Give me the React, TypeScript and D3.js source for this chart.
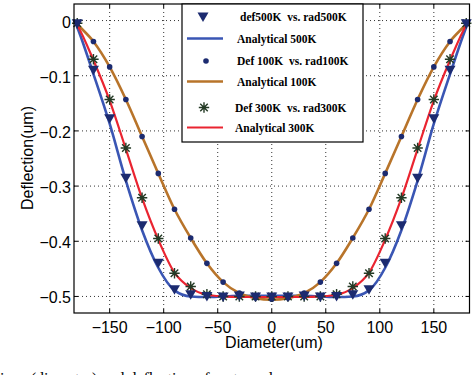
import React from "react";
import * as d3 from "d3";

const diameters = [-180, -165, -150, -135, -120, -105, -90, -75, -60, -45, -30, -15, 0, 15, 30, 45, 60, 75, 90, 105, 120, 135, 150, 165, 180];
const def500 = [-0.006, -0.09, -0.178, -0.286, -0.372, -0.44, -0.488, -0.497, -0.5, -0.501, -0.499, -0.501, -0.501, -0.501, -0.499, -0.501, -0.5, -0.497, -0.488, -0.44, -0.372, -0.286, -0.178, -0.09, -0.006];
const def100 = [-0.004, -0.038, -0.084, -0.143, -0.21, -0.277, -0.342, -0.394, -0.44, -0.474, -0.494, -0.503, -0.505, -0.503, -0.494, -0.474, -0.44, -0.394, -0.342, -0.277, -0.21, -0.143, -0.084, -0.038, -0.004];
const def300 = [-0.005, -0.07, -0.143, -0.231, -0.321, -0.395, -0.458, -0.482, -0.496, -0.5, -0.5, -0.5, -0.5, -0.5, -0.5, -0.5, -0.496, -0.482, -0.458, -0.395, -0.321, -0.231, -0.143, -0.07, -0.005];

const lineX = [-182.5, -180, -165, -150, -135, -120, -105, -90, -75, -60, -45, -30, -15, 0, 15, 30, 45, 60, 75, 90, 105, 120, 135, 150, 165, 180, 182.5];
const analytical500 = [0, -0.012, -0.097, -0.187, -0.29, -0.38, -0.448, -0.489, -0.5, -0.501, -0.5, -0.499, -0.499, -0.499, -0.499, -0.499, -0.5, -0.501, -0.5, -0.489, -0.448, -0.38, -0.29, -0.187, -0.097, -0.012, 0];
const analytical100 = [0, -0.006, -0.038, -0.084, -0.143, -0.21, -0.277, -0.342, -0.394, -0.44, -0.474, -0.494, -0.503, -0.506, -0.503, -0.494, -0.474, -0.44, -0.394, -0.342, -0.277, -0.21, -0.143, -0.084, -0.038, -0.006, 0];
const analytical300 = [0, -0.008, -0.072, -0.145, -0.233, -0.322, -0.397, -0.457, -0.485, -0.497, -0.5, -0.501, -0.501, -0.501, -0.501, -0.501, -0.5, -0.497, -0.485, -0.457, -0.397, -0.322, -0.233, -0.145, -0.072, -0.008, 0];

const xTicks = [-150, -100, -50, 0, 50, 100, 150];
const yTicks = [0, -0.1, -0.2, -0.3, -0.4, -0.5];
const legendLabels = ["def500K  vs. rad500K", "Analytical 500K", "Def 100K  vs. rad100K", "Analytical 100K", "Def 300K  vs. rad300K", "Analytical 300K"];

const BLUE = "#3a56b4";
const NAVY = "#1c2b70";
const BROWN = "#b8742a";
const RED = "#ea2430";
const STAR = "#243a25";

const L = 74, R = 469.5, T = 4, B = 313;

function fmt(v: number) {
  const s = d3.format("")(+v.toFixed(2));
  return s.replace("-", "\u2212");
}

function Tri({ x, y }: { x: number; y: number }) {
  return <path d={`M${x - 5.5},${y - 4.5}L${x + 5.5},${y - 4.5}L${x},${y + 5}Z`} fill={NAVY} />;
}
function Star({ x, y }: { x: number; y: number }) {
  const r = 5.2;
  const d = r * 0.72;
  return (
    <path
      d={`M${x - r},${y}L${x + r},${y}M${x},${y - r}L${x},${y + r}M${x - d},${y - d}L${x + d},${y + d}M${x - d},${y + d}L${x + d},${y - d}`}
      stroke={STAR}
      strokeWidth={1.4}
      fill="none"
    />
  );
}

export default function App() {
  const x = d3.scaleLinear().domain([-183, 183]).range([L, R]);
  const y = d3.scaleLinear().domain([-0.53, 0.03]).range([B, T]);
  const line = d3
    .line<number>()
    .x((_, i) => x(lineX[i]))
    .y((d) => y(d))
    .curve(d3.curveMonotoneX);

  const legendRowsY = [17, 38.5, 61, 81.5, 107.5, 127.5];

  return (
    <svg width={474} height={375} style={{ position: "absolute", left: 0, top: 0, background: "#fff" }}>
      <rect width={474} height={375} fill="#fff" />
      {/* grid */}
      {xTicks.map((t) => (
        <line key={"gx" + t} x1={x(t)} x2={x(t)} y1={T} y2={B} stroke="#333" strokeWidth={1} strokeDasharray="1 3" />
      ))}
      {yTicks.map((t) => (
        <line key={"gy" + t} x1={L} x2={R} y1={y(t)} y2={y(t)} stroke="#333" strokeWidth={1} strokeDasharray="1 3" />
      ))}
      {/* ticks */}
      {xTicks.map((t) => (
        <g key={"tx" + t}>
          <line x1={x(t)} x2={x(t)} y1={B} y2={B - 4} stroke="#000" />
          <line x1={x(t)} x2={x(t)} y1={T} y2={T + 4} stroke="#000" />
          <text x={x(t)} y={333} textAnchor="middle" fontFamily="Liberation Sans, Arial, sans-serif" fontSize={16}>
            {fmt(t)}
          </text>
        </g>
      ))}
      {yTicks.map((t) => (
        <g key={"ty" + t}>
          <line x1={L} x2={L + 4} y1={y(t)} y2={y(t)} stroke="#000" />
          <line x1={R} x2={R - 4} y1={y(t)} y2={y(t)} stroke="#000" />
          <text x={71} y={y(t) + 7} textAnchor="end" fontFamily="Liberation Sans, Arial, sans-serif" fontSize={16}>
            {fmt(t)}
          </text>
        </g>
      ))}
      {/* lines */}
      <path d={line(analytical500) || ""} fill="none" stroke={BLUE} strokeWidth={2.6} />
      <path d={line(analytical100) || ""} fill="none" stroke={BROWN} strokeWidth={2.6} />
      <path d={line(analytical300) || ""} fill="none" stroke={RED} strokeWidth={2.2} />
      {/* markers */}
      {def100.map((v, i) => (
        <circle key={"d" + i} cx={x(diameters[i])} cy={y(v)} r={2.8} fill={NAVY} />
      ))}
      {def300.map((v, i) => (
        <Star key={"s" + i} x={x(diameters[i])} y={y(v)} />
      ))}
      {def500.map((v, i) => (
        <Tri key={"t" + i} x={x(diameters[i])} y={y(v)} />
      ))}
      {/* frame */}
      <rect x={L} y={T} width={R - L} height={B - T} fill="none" stroke="#000" strokeWidth={1.2} />
      {/* legend */}
      <rect x={182} y={T} width={181} height={138} fill="#fff" stroke="#000" strokeWidth={1.2} />
      <Tri x={203} y={legendRowsY[0]} />
      <line x1={187} x2={223} y1={legendRowsY[1]} y2={legendRowsY[1]} stroke={BLUE} strokeWidth={2.6} />
      <circle cx={206} cy={legendRowsY[2]} r={2.8} fill={NAVY} />
      <line x1={187} x2={223} y1={legendRowsY[3]} y2={legendRowsY[3]} stroke={BROWN} strokeWidth={2.6} />
      <Star x={204} y={legendRowsY[4]} />
      <line x1={187} x2={223} y1={legendRowsY[5]} y2={legendRowsY[5]} stroke={RED} strokeWidth={2.2} />
      {legendLabels.map((s, i) => (
        <text
          key={"l" + i}
          x={[240, 237, 237, 237, 235, 235][i]}
          y={legendRowsY[i] + 4}
          fontFamily="Liberation Serif, Times New Roman, serif"
          fontWeight="bold"
          fontSize={11.5}
          style={{ whiteSpace: "pre" }}
        >
          {s}
        </text>
      ))}
      {/* axis labels */}
      <text x={274} y={347.5} textAnchor="middle" fontFamily="Liberation Sans, Arial, sans-serif" fontSize={16}>
        Diameter(um)
      </text>
      <text
        transform="translate(33,158) rotate(-90)"
        textAnchor="middle"
        fontFamily="Liberation Sans, Arial, sans-serif"
        fontSize={16}
      >
        Deflection(um)
      </text>
      <text x={0} y={383.5} fontFamily="Liberation Serif, Times New Roman, serif" fontSize={16}>
        ions (diameter) and deflection of rectangular
      </text>
    </svg>
  );
}
